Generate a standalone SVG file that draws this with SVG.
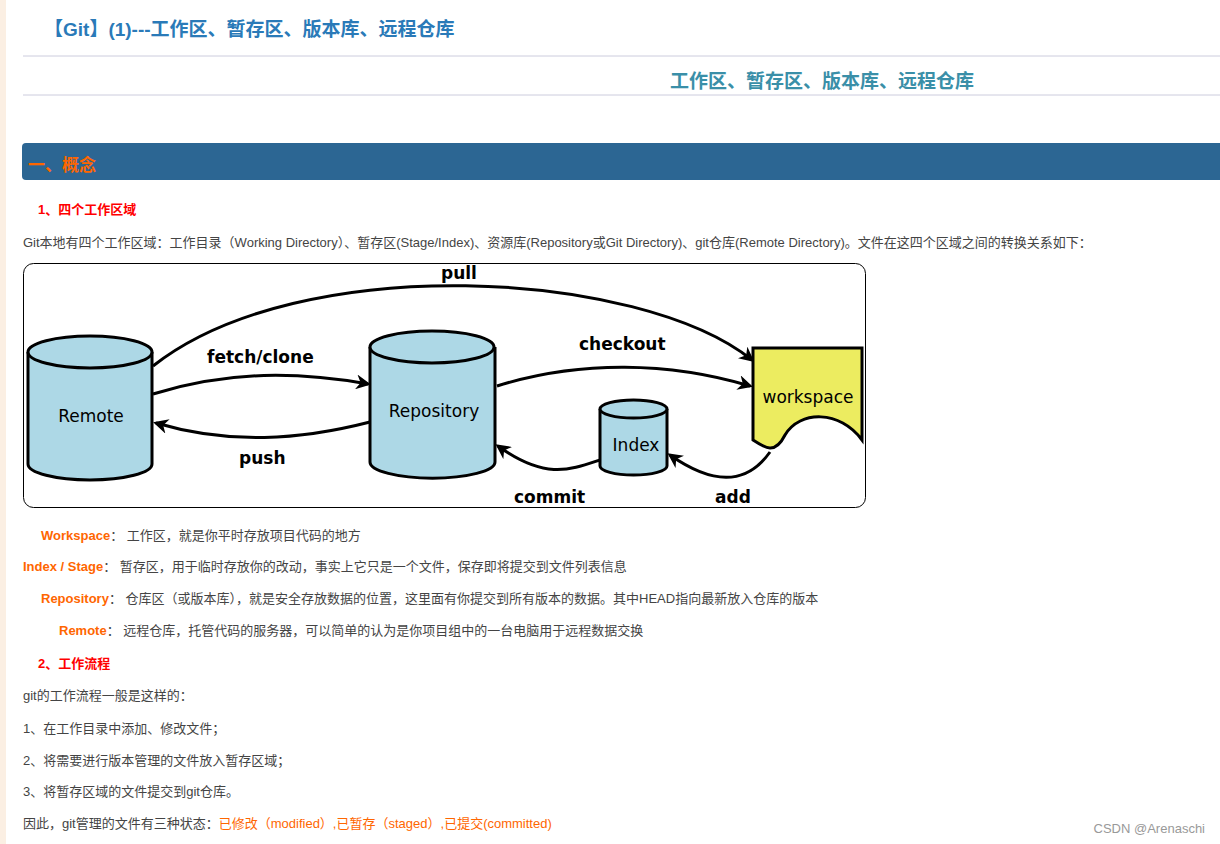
<svg xmlns="http://www.w3.org/2000/svg" width="1220" height="844" viewBox="0 0 1220 844">
<style>
.cjk{font-family:"Liberation Sans","Noto Sans CJK SC",sans-serif}
.t{font-size:13px;fill:#444}
.o{fill:#f60;font-weight:bold;font-size:13px}
.lbl{font-family:"DejaVu Sans",sans-serif;font-weight:bold;font-size:17px;fill:#000}
.nd{font-family:"DejaVu Sans",sans-serif;font-size:17px;fill:#000}
.cyl{fill:#add8e6;stroke:#000;stroke-width:3}
.ar{fill:none;stroke:#000;stroke-width:3;marker-end:url(#ah)}
</style>
<defs>
<marker id="ah" viewBox="0 0 10 10" refX="8" refY="5" markerWidth="5" markerHeight="5" orient="auto"><path d="M0,0 L10,5 L0,10 L3,5 z" fill="#000"/></marker>
<filter id="sh"><feGaussianBlur stdDeviation="1.5"/></filter>
</defs>
<rect width="1220" height="844" fill="#fff"/>
<rect x="0" y="0" width="6" height="844" fill="#fbefe3"/>
<text x="44" y="36" class="cjk" font-size="19" font-weight="bold" fill="#2a7ab8">【Git】(1)---工作区、暂存区、版本库、远程仓库</text>
<line x1="23" y1="56" x2="1220" y2="56" stroke="#ccd"/>
<text x="670" y="88" class="cjk" font-size="19" font-weight="bold" fill="#3a8fa8">工作区、暂存区、版本库、远程仓库</text>
<line x1="23" y1="95" x2="1220" y2="95" stroke="#ccd"/>
<rect x="22" y="143" width="1210" height="37" rx="4" fill="#2c6693"/>
<text x="28" y="171" class="cjk" font-size="17" font-weight="bold" fill="#f60">一、概念</text>
<text x="38" y="214" class="cjk" font-size="13" font-weight="bold" fill="#f00">1、四个工作区域</text>
<text x="23" y="247" class="cjk t">Git本地有四个工作区域：工作目录（Working Directory）、暂存区(Stage/Index)、资源库(Repository或Git Directory)、git仓库(Remote Directory)。文件在这四个区域之间的转换关系如下：</text>

<rect x="23.5" y="263.5" width="842" height="244" rx="10" fill="#fff" stroke="#000"/>
<g id="connectors">
<path class="ar" d="M153,366 C300,250 640,270 752,360"/>
<path class="ar" d="M153,394 C230,370 300,372 368,384"/>
<path class="ar" d="M370,422 C300,440 230,445 156,423"/>
<path class="ar" d="M497,386 C580,360 670,362 750,386"/>
<path class="ar" d="M600,460 C570,470 545,480 498,446"/>
<path class="ar" d="M770,452 C750,480 720,490 670,455"/>
</g>
<text x="441" y="279" class="lbl">pull</text>
<text x="207" y="363" class="lbl">fetch/clone</text>
<text x="239" y="464" class="lbl">push</text>
<text x="579" y="350" class="lbl">checkout</text>
<text x="514" y="503" class="lbl">commit</text>
<text x="715" y="503" class="lbl">add</text>
<g id="remote">
<path class="cyl" d="M28,352 V464 A62,16 0 0 0 152,464 V352"/>
<ellipse class="cyl" cx="90" cy="352" rx="62" ry="16"/>
<text x="91" y="422" class="nd" text-anchor="middle">Remote</text>
</g>
<g id="repository">
<path class="cyl" d="M370,347 V462 A62,16 0 0 0 495,462 V347"/>
<ellipse class="cyl" cx="432" cy="347" rx="62" ry="16"/>
<text x="434" y="417" class="nd" text-anchor="middle">Repository</text>
</g>
<g id="index">
<path class="cyl" d="M600,409 V466 A33.5,9 0 0 0 667,466 V409"/>
<ellipse class="cyl" cx="633.5" cy="409" rx="33.5" ry="9"/>
<text x="636" y="451" class="nd" text-anchor="middle">Index</text>
</g>
<g id="workspace">
<path d="M753,348 H862 V440 C840,410 800,410 785,435 C775,455 765,448 753,440 Z" fill="#ecec60" stroke="#000" stroke-width="3"/>
<text x="808" y="403" class="nd" text-anchor="middle">workspace</text>
</g>

<text x="41" y="540" class="cjk o">Workspace<tspan class="t" font-weight="normal">：  工作区，就是你平时存放项目代码的地方</tspan></text>
<text x="23" y="571" class="cjk o">Index / Stage<tspan class="t" font-weight="normal">：  暂存区，用于临时存放你的改动，事实上它只是一个文件，保存即将提交到文件列表信息</tspan></text>
<text x="41" y="603" class="cjk o">Repository<tspan class="t" font-weight="normal">：  仓库区（或版本库），就是安全存放数据的位置，这里面有你提交到所有版本的数据。其中HEAD指向最新放入仓库的版本</tspan></text>
<text x="59" y="635" class="cjk o">Remote<tspan class="t" font-weight="normal">：  远程仓库，托管代码的服务器，可以简单的认为是你项目组中的一台电脑用于远程数据交换</tspan></text>
<text x="38" y="668" class="cjk" font-size="13" font-weight="bold" fill="#f00">2、工作流程</text>
<text x="23" y="700" class="cjk t">git的工作流程一般是这样的：</text>
<text x="23" y="733" class="cjk t">1、在工作目录中添加、修改文件；</text>
<text x="23" y="765" class="cjk t">2、将需要进行版本管理的文件放入暂存区域；</text>
<text x="23" y="796" class="cjk t">3、将暂存区域的文件提交到git仓库。</text>
<text x="23" y="828" class="cjk t">因此，git管理的文件有三种状态：<tspan fill="#f60">已修改（modified）,已暂存（staged）,已提交(committed)</tspan></text>
<text x="1205" y="833" class="cjk" font-size="13" fill="#999" text-anchor="end">CSDN @Arenaschi</text>
</svg>
